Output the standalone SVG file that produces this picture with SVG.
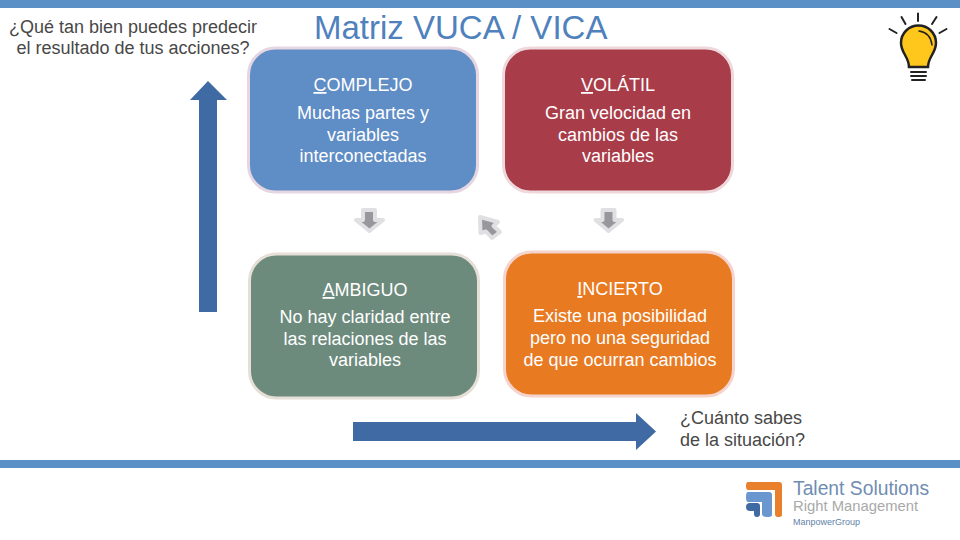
<svg xmlns="http://www.w3.org/2000/svg" width="960" height="540" viewBox="0 0 960 540">
<style>
text{font-family:"Liberation Sans",Arial,sans-serif}
.q{font-size:18px;fill:#484848;text-anchor:middle}
.t{font-size:18px;fill:#fff;text-anchor:middle}
.h{text-decoration:underline}
.b{fill:#3f6aa3}
.g{fill:#97979c;stroke:#e0e0e3;stroke-width:4;stroke-linejoin:round}
.bar{fill:#5b90c6}
</style>
<rect width="960" height="540" fill="#fff"/>
<rect class="bar" x="0" y="0" width="960" height="8"/>
<rect class="bar" x="0" y="460" width="960" height="8"/>
<g id="question-top"><text class="q" x="133" y="33">¿Qué tan bien puedes predecir</text><text class="q" x="133" y="54">el resultado de tus acciones?</text></g>
<g id="title"><text x="314" y="39" font-size="33" fill="#4f81bd">Matriz VUCA / VICA</text></g>
<g id="complejo"><rect x="248.500" y="48" width="229" height="144" rx="27" fill="#5f8dc6" stroke="#e6d6e2" stroke-width="3"/>
<text class="t" x="363" y="91"><tspan class="h">C</tspan>OMPLEJO</text>
<text class="t" x="363" y="119">Muchas partes y</text><text class="t" x="363" y="141">variables</text><text class="t" x="363" y="162">interconectadas</text></g>
<g id="volatil"><rect x="503.500" y="48" width="229" height="144" rx="27" fill="#a93c49" stroke="#eed8dc" stroke-width="3"/>
<text class="t" x="618" y="91"><tspan class="h">V</tspan>OLÁTIL</text>
<text class="t" x="618" y="119">Gran velocidad en</text><text class="t" x="618" y="141">cambios de las</text><text class="t" x="618" y="162">variables</text></g>
<g id="ambiguo"><rect x="249.500" y="254" width="229" height="144" rx="27" fill="#6d8b7d" stroke="#e6dfd8" stroke-width="3"/>
<text class="t" x="365" y="296"><tspan class="h">A</tspan>MBIGUO</text>
<text class="t" x="365" y="323">No hay claridad entre</text><text class="t" x="365" y="345">las relaciones de las</text><text class="t" x="365" y="366">variables</text></g>
<g id="incierto"><rect x="504.500" y="252" width="229" height="144" rx="27" fill="#e87a22" stroke="#f4d4cc" stroke-width="3"/>
<text class="t" x="620" y="295"><tspan class="h">I</tspan>NCIERTO</text>
<text class="t" x="620" y="322">Existe una posibilidad</text><text class="t" x="620" y="344">pero no una seguridad</text><text class="t" x="620" y="366">de que ocurran cambios</text></g>
<g id="connectors">
<polygon class="g" points="363,210 375,210 375,220 383,220 369.500,231 356,220 363,220"/>
<polygon class="g" points="602.500,210 614.500,210 614.500,220 622,220 608.500,231 595.500,220 602.500,220"/>
<polygon class="g" points="480,217 498,222 493.500,226 500,232 492,238 486,231.500 480.500,233"/>
<polygon class="b" points="199,312 217,312 217,100 227,100 208,81 190,100 199,100"/>
<polygon class="b" points="353,422 636,422 636,413 656,431.500 636,450 636,441 353,441"/>
</g>
<g id="question-right"><text class="q" x="680" y="424" style="text-anchor:start">¿Cuánto sabes</text><text class="q" x="680" y="446" style="text-anchor:start">de la situación?</text></g>
<g id="bulb" stroke-linecap="round">
<g stroke="#222" stroke-width="2" fill="none"><path d="M918 13.500V21M901.500 17L905.500 24M936.500 17L932 24M889.500 29L896.500 33M946.500 29L939.500 33"/></g>
<path d="M909 67C909 57 901 53 901 43C901 33 909 25.500 918.500 25.500C928 25.500 936 33 936 43C936 53 928 57 928 67Z" fill="#ffc61b" stroke="#222" stroke-width="2.500"/>
<path d="M919 31C926 32 931 37 932 45" fill="none" stroke="#222" stroke-width="1.500"/>
<path d="M911 72H926M911 76H926M912 80H925" stroke="#222" stroke-width="2" fill="none"/>
</g>
<g id="logo">
<path d="M748 482H779Q782 482 782 485V515Q782 517 778 517Q775 517 775 514V490H748Q746 490 746 486Q746 482 748 482Z" fill="#e8802c"/>
<path d="M748 492H769Q772 492 772 495V515Q772 517 767 517Q762 517 762 514V502H748Q746 502 746 497Q746 492 748 492Z" fill="#6a97cf"/>
<path d="M750 503H757Q760 503 760 506V514Q760 517 757 517Q754 517 754 514V511H750Q746 511 746 507Q746 503 750 503Z" fill="#3f6aa3"/>
<text x="793" y="495" font-size="19.300" fill="#6f8db3">Talent Solutions</text>
<text x="793" y="511" font-size="14.800" fill="#a9a9a9">Right Management</text>
<text x="793" y="525" font-size="9" fill="#5f7fa8">ManpowerGroup</text>
</g>
</svg>
